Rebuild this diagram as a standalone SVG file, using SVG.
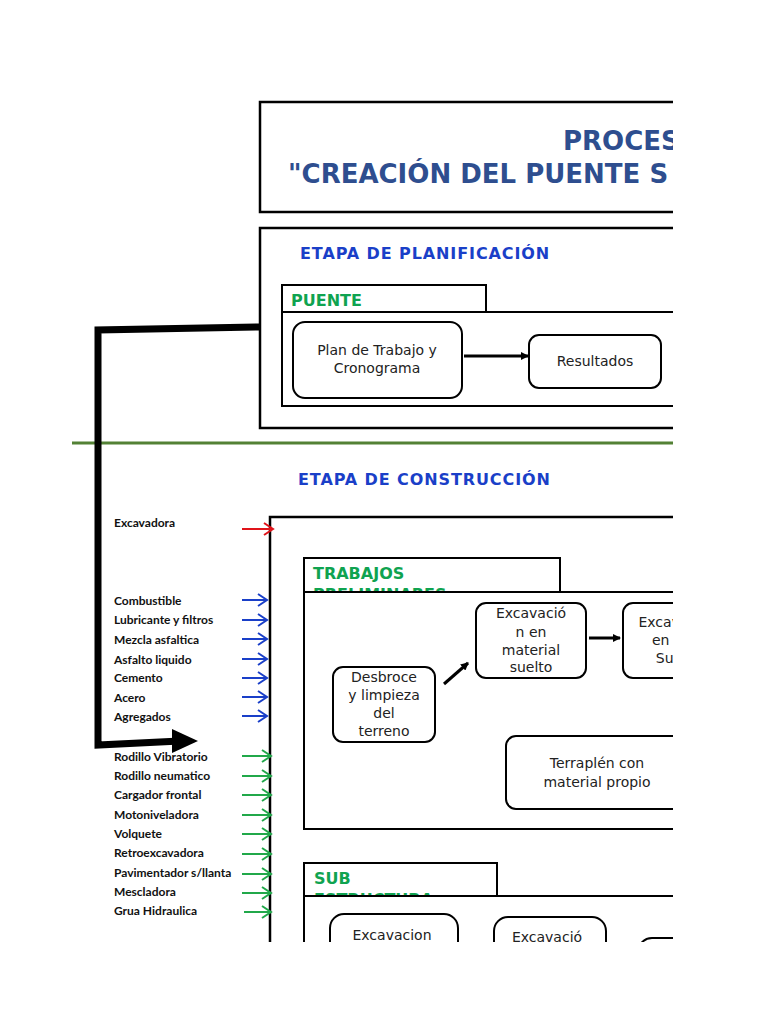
<svg xmlns="http://www.w3.org/2000/svg" width="768" height="1024" viewBox="0 0 768 1024">
<style>
.box{fill:#fff;stroke:#000;stroke-width:2.5}
.rb{fill:#fff;stroke:#000;stroke-width:2}
.t{font-family:"DejaVu Sans",sans-serif;font-size:14px;fill:#222;text-anchor:middle}
.g{font-family:"DejaVu Sans",sans-serif;font-size:16px;font-weight:bold;fill:#0fa350}
.b{font-family:"DejaVu Sans",sans-serif;font-size:16px;font-weight:bold;fill:#1a3fc8;letter-spacing:0.9px}
.l{font-family:Lato,"Open Sans",sans-serif;font-size:12px;font-weight:bold;fill:#111}
.ar{fill:none;stroke-width:2}
</style>
<defs>
<clipPath id="c"><rect x="0" y="0" width="673" height="942"/></clipPath>
<marker id="m" markerWidth="8" markerHeight="8" refX="7" refY="4" orient="auto" markerUnits="userSpaceOnUse"><path d="M0,0 L8,4 L0,8 z" fill="#000"/></marker>
</defs>
<rect width="768" height="1024" fill="#fff"/>
<g clip-path="url(#c)">
<g id="title"><rect class="box" x="260" y="102" width="520" height="110"/>
<text x="563" y="150" font-family="DejaVu Sans,sans-serif" font-size="26" font-weight="bold" fill="#2e4e8f">PROCESO</text>
<text x="288" y="183" font-family="DejaVu Sans,sans-serif" font-size="26" font-weight="bold" fill="#2e4e8f">"CREACIÓN DEL PUENTE S</text></g>
<g id="planif"><rect class="box" x="260" y="228" width="520" height="200"/>
<text class="b" x="300" y="259">ETAPA DE PLANIFICACIÓN</text>
<rect class="rb" x="282" y="285" width="204" height="30" stroke-width="1.5"/>
<text class="g" x="291" y="306">PUENTE</text>
<rect class="rb" x="282" y="312" width="500" height="94" stroke-width="1.5"/></g>
<g id="plan"><rect class="rb" x="293" y="322" width="169" height="76" rx="12"/>
<text class="t" x="377" y="355">Plan de Trabajo y</text><text class="t" x="377" y="373">Cronograma</text></g>
<g id="res"><rect class="rb" x="529" y="335" width="132" height="53" rx="10"/>
<text class="t" x="595" y="366">Resultados</text></g>
<line x1="72" y1="443" x2="680" y2="443" stroke="#538135" stroke-width="3"/>
<text class="b" x="298" y="485">ETAPA DE CONSTRUCCIÓN</text>
<g id="constr"><rect class="box" x="270" y="517" width="520" height="460"/></g>
<g id="tp"><rect class="rb" x="304" y="558" width="256" height="40" stroke-width="1.5"/>
<text class="g" x="313" y="579">TRABAJOS</text><text class="g" x="313" y="600">PRELIMINARES</text>
<rect class="rb" x="304" y="592" width="480" height="237" stroke-width="1.5"/></g>
<g id="desb"><rect class="rb" x="333" y="667" width="102" height="75" rx="10"/>
<text class="t" x="384" y="682">Desbroce</text><text class="t" x="384" y="700">y limpieza</text><text class="t" x="384" y="718">del</text><text class="t" x="384" y="736">terreno</text></g>
<g id="exc1"><rect class="rb" x="476" y="603" width="110" height="75" rx="10"/>
<text class="t" x="531" y="618">Excavació</text><text class="t" x="531" y="637">n en</text><text class="t" x="531" y="655">material</text><text class="t" x="531" y="672">suelto</text></g>
<g id="exc2"><rect class="rb" x="623" y="603" width="110" height="75" rx="10"/>
<text class="t" x="678" y="627">Excavación</text><text class="t" x="678" y="645">en roca</text><text class="t" x="678" y="663">Suelta</text></g>
<g id="terr"><rect class="rb" x="506" y="736" width="200" height="73" rx="10"/>
<text class="t" x="597" y="768">Terraplén con</text><text class="t" x="597" y="787">material propio</text></g>
<g id="sub"><rect class="rb" x="304" y="863" width="193" height="34" stroke-width="1.5"/>
<text class="g" x="314" y="884">SUB</text><text class="g" x="314" y="905">ESTRUCTURA</text>
<rect class="rb" x="304" y="896" width="480" height="100" stroke-width="1.5"/></g>
<g id="e3"><rect class="rb" x="330" y="914" width="128" height="60" rx="14"/><text class="t" x="392" y="940">Excavacion</text></g>
<g id="e4"><rect class="rb" x="494" y="917" width="112" height="60" rx="14"/><text class="t" x="547" y="942">Excavació</text></g>
<g id="e5"><rect class="rb" x="638" y="938" width="90" height="60" rx="14"/></g>
</g>
<g id="connectors">
<polyline points="260,327 98,330 98,745 180,741" fill="none" stroke="#000" stroke-width="7"/>
<polygon points="172,729 198,741 172,753" fill="#000"/>
<line x1="464" y1="356" x2="528" y2="356" stroke="#000" stroke-width="3" marker-end="url(#m)"/>
<line x1="444" y1="684" x2="468" y2="663" stroke="#000" stroke-width="3" marker-end="url(#m)"/>
<line x1="589" y1="638" x2="620" y2="638" stroke="#000" stroke-width="3" marker-end="url(#m)"/>
<g stroke="#e0141a" class="ar"><path d="M242,529 H272 M264,523 L273,529 L264,535"/></g>
<g stroke="#1a3fc8" class="ar">
<path d="M242,600 H266 M258,594 L267,600 L258,606"/>
<path d="M242,620 H266 M258,614 L267,620 L258,626"/>
<path d="M242,639 H266 M258,633 L267,639 L258,645"/>
<path d="M242,659 H266 M258,653 L267,659 L258,665"/>
<path d="M242,678 H266 M258,672 L267,678 L258,684"/>
<path d="M242,697 H266 M258,691 L267,697 L258,703"/>
<path d="M242,716 H266 M258,710 L267,716 L258,722"/>
</g>
<g stroke="#21a84a" class="ar">
<path d="M242,756 H270 M262,750 L271,756 L262,762"/>
<path d="M242,776 H270 M262,770 L271,776 L262,782"/>
<path d="M242,795 H270 M262,789 L271,795 L262,801"/>
<path d="M242,815 H270 M262,809 L271,815 L262,821"/>
<path d="M242,834 H270 M262,828 L271,834 L262,840"/>
<path d="M242,854 H270 M262,848 L271,854 L262,860"/>
<path d="M242,874 H270 M262,868 L271,874 L262,880"/>
<path d="M242,893 H270 M262,887 L271,893 L262,899"/>
<path d="M244,912 H270 M262,906 L271,912 L262,918"/>
</g>
</g>
<g id="labels">
<text class="l" x="114" y="527">Excavadora</text>
<text class="l" x="114" y="605">Combustible</text>
<text class="l" x="114" y="624">Lubricante y filtros</text>
<text class="l" x="114" y="644">Mezcla asfaltica</text>
<text class="l" x="114" y="664">Asfalto liquido</text>
<text class="l" x="114" y="682">Cemento</text>
<text class="l" x="114" y="702">Acero</text>
<text class="l" x="114" y="721">Agregados</text>
<text class="l" x="114" y="761">Rodillo Vibratorio</text>
<text class="l" x="114" y="780">Rodillo neumatico</text>
<text class="l" x="114" y="799">Cargador frontal</text>
<text class="l" x="114" y="819">Motoniveladora</text>
<text class="l" x="114" y="838">Volquete</text>
<text class="l" x="114" y="857">Retroexcavadora</text>
<text class="l" x="114" y="877">Pavimentador s/llanta</text>
<text class="l" x="114" y="896">Mescladora</text>
<text class="l" x="114" y="915">Grua Hidraulica</text>
</g>
</svg>
